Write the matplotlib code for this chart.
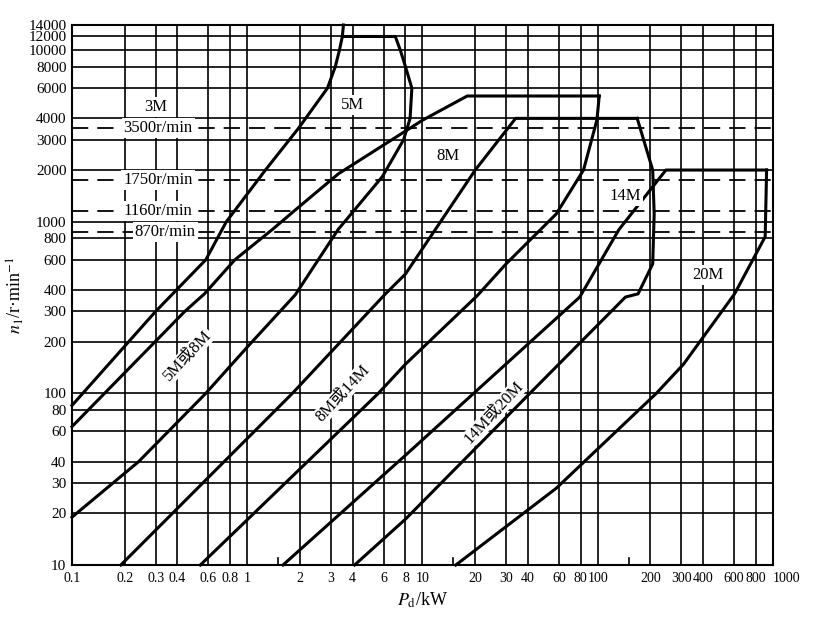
import matplotlib.pyplot as plt
from matplotlib.ticker import FixedLocator, NullLocator

plt.rcParams["mathtext.fontset"] = "stix"

# ---------------------------------------------------------------------------
# Data (log-log, P_d in kW, n1 in r/min)
# ---------------------------------------------------------------------------
X_TICKS = [0.1, 0.2, 0.3, 0.4, 0.6, 0.8, 1, 2, 3, 4, 6, 8, 10, 20, 30, 40, 60, 80,
           100, 200, 300, 400, 600, 800, 1000]
X_LABELS = ["0.1", "0.2", "0.3", "0.4", "0.6", "0.8", "1", "2", "3", "4", "6", "8", "10",
            "20", "30", "40", "60", "80", "100", "200", "300", "400", "600", "800", "1000"]
Y_TICKS = [10, 20, 30, 40, 60, 80, 100, 200, 300, 400, 600, 800, 1000, 2000, 3000,
           4000, 6000, 8000, 10000, 12000, 14000]

# boundary lines
A_x = [0.1, 0.3, 0.58, 0.76, 1.27, 1.96, 2.87, 3.18, 3.36, 3.49, 3.54]
A_y = [85, 300, 600, 1000, 2000, 3500, 6000, 8000, 10000, 12000, 14000]
B_x = [0.1, 0.44, 0.57, 0.85, 1.39, 1.88, 3.31, 10, 18, 102]
B_y = [64, 300, 380, 600, 900, 1170, 1900, 3900, 5400, 5400]
C_x = [0.1, 0.24, 0.58, 1.0, 1.88, 3.3, 5.9, 7.8, 8.5, 8.7, 8.0, 7.47, 7.0, 3.49]
C_y = [19, 40, 100, 186, 375, 900, 1830, 3000, 4000, 6000, 8000, 10000, 12000, 12000]
D_x = [0.19, 1.81, 6.15, 8, 20, 34, 168]
D_y = [10, 100, 380, 496, 2000, 4000, 4000]
E_x = [0.54, 5.6, 8, 20.5, 30, 58, 83, 99, 102]
E_y = [10, 100, 148, 370, 568, 1110, 2000, 3920, 5400]
F_x = [1.6, 8, 79, 132, 245, 920]
F_y = [10, 43.6, 364, 898, 2000, 2000]
G_x = [4.1, 8, 41, 144, 170, 206, 210, 206, 168]
G_y = [10, 18.5, 100, 364, 380, 568, 1110, 2000, 4000]
H_x = [15.5, 58, 216, 309, 603, 903, 920]
H_y = [10, 28, 100, 148, 379, 818, 2000]

SPEEDS = [3500, 1750, 1160, 870]
SPEED_LABELS = ["3500r/min", "1750r/min", "1160r/min", "870r/min"]
SPEED_LABEL_X = [0.31, 0.31, 0.31, 0.34]

REGION_LABELS = ["3M", "5M", "8M", "14M", "20M"]
REGION_X = [0.3, 4.0, 14, 144, 423]
REGION_Y = [4660, 4800, 2420, 1420, 490]

BAND_LABELS = ["5M或8M", "8M或14M", "14M或20M"]
BAND_X = [0.46, 3.5, 25.6]
BAND_Y = [167, 100, 77]

FONT = ["Liberation Serif", "Noto Sans CJK SC"]

# ---------------------------------------------------------------------------
# Plot
# ---------------------------------------------------------------------------
fig = plt.figure(figsize=(8.34, 6.2), dpi=100)
ax = fig.add_axes([0.0863, 0.0887, 0.8405, 0.871])
ax.set_xscale("log")
ax.set_yscale("log")
ax.set_xlim(0.1, 1000)
ax.set_ylim(10, 14000)

ax.xaxis.set_major_locator(FixedLocator(X_TICKS))
ax.xaxis.set_minor_locator(NullLocator())
ax.yaxis.set_major_locator(FixedLocator(Y_TICKS))
ax.yaxis.set_minor_locator(NullLocator())
xlabels = ax.set_xticklabels(X_LABELS, family=FONT, fontsize=10)
xlabels[-1].set_ha("left")   # 800 / 1000 sit too close together
ax.set_yticklabels([str(v) for v in Y_TICKS], family=FONT, fontsize=11)
ax.tick_params(axis="x", length=0, pad=5)
ax.tick_params(axis="y", length=0, pad=4)
ax.grid(True, color="black", lw=1.2)
for s in ax.spines.values():
    s.set_linewidth(1.5)

for v in SPEEDS:
    ax.axhline(v, color="black", lw=1.3, dashes=(9, 5), zorder=3)

for xs, ys in [(A_x, A_y), (B_x, B_y), (C_x, C_y), (D_x, D_y),
               (E_x, E_y), (F_x, F_y), (G_x, G_y), (H_x, H_y)]:
    ax.plot(xs, ys, color="black", lw=2.2, zorder=4, clip_on=False)

box = dict(facecolor="white", edgecolor="none", pad=1.5)
for lab, x, y in zip(SPEED_LABELS, SPEED_LABEL_X, SPEEDS):
    ax.text(x, y, lab, ha="center", va="center", family=FONT, fontsize=12,
            bbox=box, zorder=5)
for lab, x, y in zip(REGION_LABELS, REGION_X, REGION_Y):
    ax.text(x, y, lab, ha="center", va="center", family=FONT, fontsize=12,
            bbox=box, zorder=5)
for lab, x, y in zip(BAND_LABELS, BAND_X, BAND_Y):
    ax.text(x, y, lab, ha="center", va="center", family=FONT, fontsize=12,
            rotation=47, rotation_mode="anchor", zorder=5,
            bbox=dict(facecolor="white", edgecolor="none", pad=0.5))

# small tick marks at the bottom edge
for x in [1.5, 15, 150]:
    ax.plot([x, x], [10, 11], color="black", lw=1.2, zorder=4)

ax.set_xlabel("$P_\\mathrm{d}$/kW", family=FONT, fontsize=13, labelpad=4)
ax.set_ylabel("$n_1$/r·min$^{-1}$", family=FONT, fontsize=13, labelpad=2)

fig.savefig("out.png", dpi=100)
